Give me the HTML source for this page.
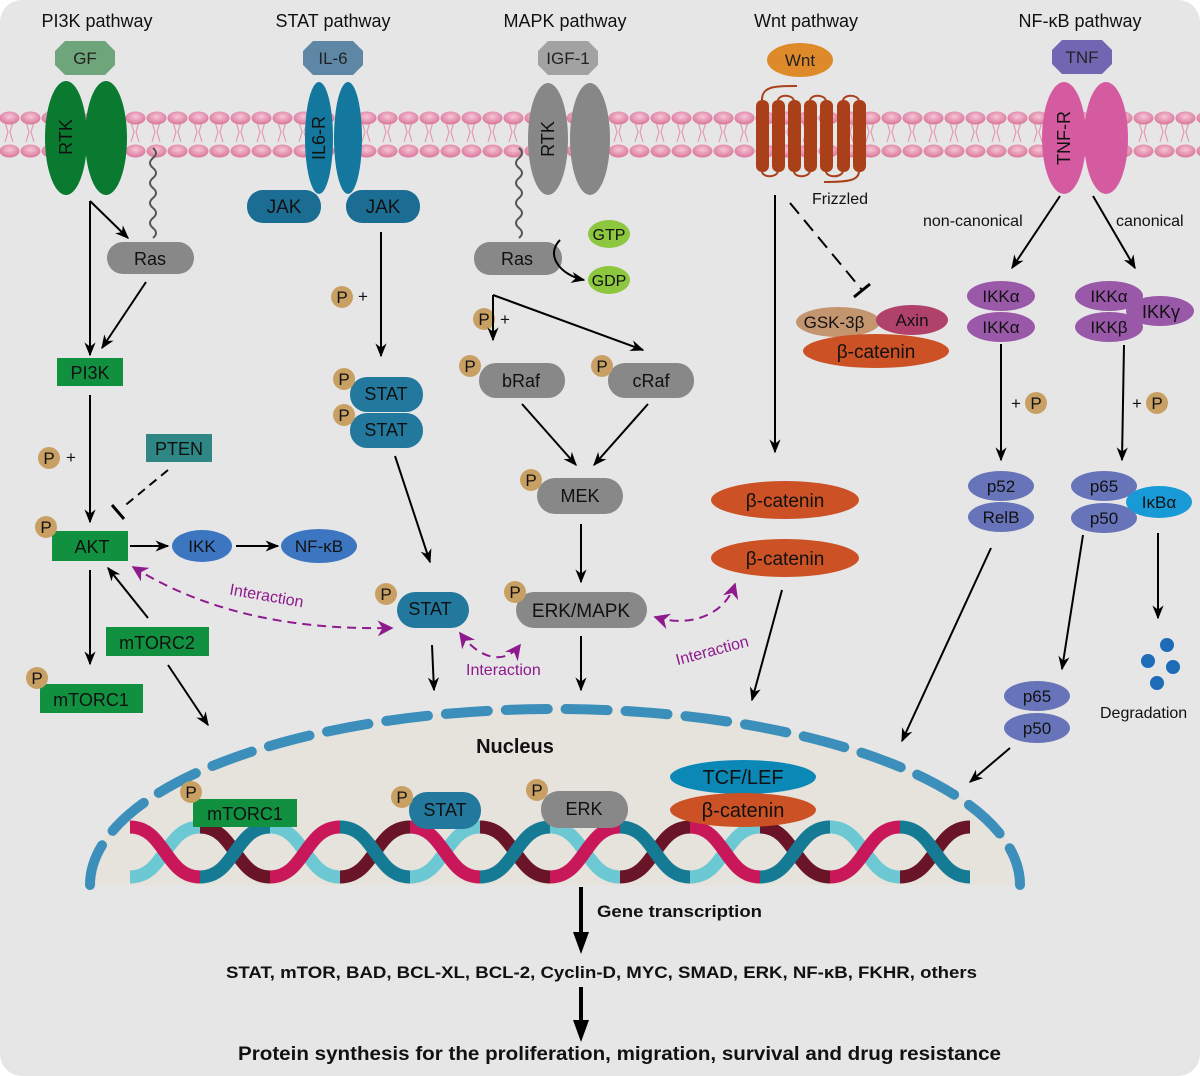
<!DOCTYPE html>
<html><head><meta charset="utf-8"><style>
html,body{margin:0;padding:0;background:#fff;}
svg{display:block;font-family:"Liberation Sans",sans-serif;}
</style></head><body>
<svg width="1200" height="1076" viewBox="0 0 1200 1076" xmlns="http://www.w3.org/2000/svg">
<defs>
<marker id="ar" viewBox="0 0 10 10" refX="9" refY="5" markerWidth="7" markerHeight="7" orient="auto-start-reverse"><path d="M0,1 L10,5 L0,9 L3,5 z" fill="#000"/></marker>
<marker id="ap" viewBox="0 0 10 10" refX="9" refY="5" markerWidth="8" markerHeight="8" orient="auto-start-reverse"><path d="M0,0 L10,5 L0,10 L3,5 z" fill="#8e1a8e"/></marker>
<radialGradient id="lh" cx="50%" cy="40%" r="60%"><stop offset="0" stop-color="#f6c6d6"/><stop offset="1" stop-color="#d9749a"/></radialGradient>
<pattern id="heads" x="-1" y="0" width="21" height="200" patternUnits="userSpaceOnUse">
<ellipse cx="10.5" cy="118" rx="10" ry="6.5" fill="url(#lh)"/>
<ellipse cx="10.5" cy="151" rx="10" ry="6.5" fill="url(#lh)"/>
</pattern>
</defs>
<rect x="0" y="0" width="1200" height="1076" rx="22" fill="#e6e6e6"/>

<g stroke="#e39ab3" stroke-width="1.2" fill="none">
<path d="M5 122 l3 10 l-3 10 M13 122 l-3 10 l3 10 M26 122 l3 10 l-3 10 M34 122 l-3 10 l3 10 M47 122 l3 10 l-3 10 M55 122 l-3 10 l3 10 M68 122 l3 10 l-3 10 M76 122 l-3 10 l3 10 M89 122 l3 10 l-3 10 M97 122 l-3 10 l3 10 M110 122 l3 10 l-3 10 M118 122 l-3 10 l3 10 M131 122 l3 10 l-3 10 M139 122 l-3 10 l3 10 M152 122 l3 10 l-3 10 M160 122 l-3 10 l3 10 M173 122 l3 10 l-3 10 M181 122 l-3 10 l3 10 M194 122 l3 10 l-3 10 M202 122 l-3 10 l3 10 M215 122 l3 10 l-3 10 M223 122 l-3 10 l3 10 M236 122 l3 10 l-3 10 M244 122 l-3 10 l3 10 M257 122 l3 10 l-3 10 M265 122 l-3 10 l3 10 M278 122 l3 10 l-3 10 M286 122 l-3 10 l3 10 M299 122 l3 10 l-3 10 M307 122 l-3 10 l3 10 M320 122 l3 10 l-3 10 M328 122 l-3 10 l3 10 M341 122 l3 10 l-3 10 M349 122 l-3 10 l3 10 M362 122 l3 10 l-3 10 M370 122 l-3 10 l3 10 M383 122 l3 10 l-3 10 M391 122 l-3 10 l3 10 M404 122 l3 10 l-3 10 M412 122 l-3 10 l3 10 M425 122 l3 10 l-3 10 M433 122 l-3 10 l3 10 M446 122 l3 10 l-3 10 M454 122 l-3 10 l3 10 M467 122 l3 10 l-3 10 M475 122 l-3 10 l3 10 M488 122 l3 10 l-3 10 M496 122 l-3 10 l3 10 M509 122 l3 10 l-3 10 M517 122 l-3 10 l3 10 M530 122 l3 10 l-3 10 M538 122 l-3 10 l3 10 M551 122 l3 10 l-3 10 M559 122 l-3 10 l3 10 M572 122 l3 10 l-3 10 M580 122 l-3 10 l3 10 M593 122 l3 10 l-3 10 M601 122 l-3 10 l3 10 M614 122 l3 10 l-3 10 M622 122 l-3 10 l3 10 M635 122 l3 10 l-3 10 M643 122 l-3 10 l3 10 M656 122 l3 10 l-3 10 M664 122 l-3 10 l3 10 M677 122 l3 10 l-3 10 M685 122 l-3 10 l3 10 M698 122 l3 10 l-3 10 M706 122 l-3 10 l3 10 M719 122 l3 10 l-3 10 M727 122 l-3 10 l3 10 M740 122 l3 10 l-3 10 M748 122 l-3 10 l3 10 M761 122 l3 10 l-3 10 M769 122 l-3 10 l3 10 M782 122 l3 10 l-3 10 M790 122 l-3 10 l3 10 M803 122 l3 10 l-3 10 M811 122 l-3 10 l3 10 M824 122 l3 10 l-3 10 M832 122 l-3 10 l3 10 M845 122 l3 10 l-3 10 M853 122 l-3 10 l3 10 M866 122 l3 10 l-3 10 M874 122 l-3 10 l3 10 M887 122 l3 10 l-3 10 M895 122 l-3 10 l3 10 M908 122 l3 10 l-3 10 M916 122 l-3 10 l3 10 M929 122 l3 10 l-3 10 M937 122 l-3 10 l3 10 M950 122 l3 10 l-3 10 M958 122 l-3 10 l3 10 M971 122 l3 10 l-3 10 M979 122 l-3 10 l3 10 M992 122 l3 10 l-3 10 M1000 122 l-3 10 l3 10 M1013 122 l3 10 l-3 10 M1021 122 l-3 10 l3 10 M1034 122 l3 10 l-3 10 M1042 122 l-3 10 l3 10 M1055 122 l3 10 l-3 10 M1063 122 l-3 10 l3 10 M1076 122 l3 10 l-3 10 M1084 122 l-3 10 l3 10 M1097 122 l3 10 l-3 10 M1105 122 l-3 10 l3 10 M1118 122 l3 10 l-3 10 M1126 122 l-3 10 l3 10 M1139 122 l3 10 l-3 10 M1147 122 l-3 10 l3 10 M1160 122 l3 10 l-3 10 M1168 122 l-3 10 l3 10 M1181 122 l3 10 l-3 10 M1189 122 l-3 10 l3 10"/>
</g>
<rect x="0" y="110" width="1200" height="48" fill="url(#heads)"/>

<!-- ligands -->
<g font-size="17" text-anchor="middle">
<polygon points="55,51 65,41 105,41 115,51 115,65 105,75 65,75 55,65" fill="#6fa57a"/>
<text x="85" y="64" fill="#222">GF</text>
<polygon points="303,51 313,41 353,41 363,51 363,65 353,75 313,75 303,65" fill="#5d87a5"/>
<text x="333" y="64" fill="#222">IL-6</text>
<polygon points="538,51 548,41 588,41 598,51 598,65 588,75 548,75 538,65" fill="#a2a2a2"/>
<text x="568" y="64" fill="#222">IGF-1</text>
<ellipse cx="800" cy="60" rx="33" ry="17" fill="#de8a2b"/>
<text x="800" y="66" fill="#222">Wnt</text>
<polygon points="1052,50 1062,40 1102,40 1112,50 1112,64 1102,74 1062,74 1052,64" fill="#7266b3"/>
<text x="1082" y="63" fill="#222">TNF</text>
</g>

<!-- receptors -->
<ellipse cx="66" cy="138" rx="21" ry="57" fill="#0a7a31"/>
<ellipse cx="106" cy="138" rx="21" ry="57" fill="#0a7a31"/>
<text transform="translate(72,137) rotate(-90)" text-anchor="middle" font-size="18" fill="#111">RTK</text>
<ellipse cx="319" cy="138" rx="14" ry="56" fill="#14789e"/>
<ellipse cx="348" cy="138" rx="14" ry="56" fill="#14789e"/>
<text transform="translate(325,138) rotate(-90)" text-anchor="middle" font-size="18" fill="#111">IL6-R</text>
<ellipse cx="548" cy="139" rx="20" ry="56" fill="#878787"/>
<ellipse cx="590" cy="139" rx="20" ry="56" fill="#878787"/>
<text transform="translate(554,139) rotate(-90)" text-anchor="middle" font-size="18" fill="#111">RTK</text>
<ellipse cx="1064" cy="138" rx="22" ry="56" fill="#d55ba1"/>
<ellipse cx="1106" cy="138" rx="22" ry="56" fill="#d55ba1"/>
<text transform="translate(1070,138) rotate(-90)" text-anchor="middle" font-size="18" fill="#111">TNF-R</text>
<!-- frizzled -->
<g fill="#a9401a">
<rect x="756" y="100" width="13" height="72" rx="6"/>
<rect x="772" y="100" width="13" height="72" rx="6"/>
<rect x="788" y="100" width="13" height="72" rx="6"/>
<rect x="804" y="100" width="13" height="72" rx="6"/>
<rect x="820" y="100" width="13" height="72" rx="6"/>
<rect x="837" y="100" width="13" height="72" rx="6"/>
<rect x="853" y="100" width="13" height="72" rx="6"/>
</g>
<g fill="none" stroke="#a9401a" stroke-width="2">
<path d="M762 100 C762 86 775 86 797 86"/>
<path d="M778 101 C778 94 793 94 794 101 M810 101 C810 94 825 94 826 101 M843 101 C843 94 858 94 859 101"/>
<path d="M762 171 C762 178 777 178 778 171 M794 171 C794 178 809 178 810 171 M826 171 C826 178 842 178 843 171"/>
<path d="M859 171 C859 180 850 182 824 182"/>
</g>
<text x="812" y="204" font-size="16" fill="#111">Frizzled</text>

<!-- titles -->
<g font-size="18" fill="#111" text-anchor="middle">
<text x="97" y="27">PI3K pathway</text>
<text x="333" y="27">STAT pathway</text>
<text x="565" y="27">MAPK pathway</text>
<text x="806" y="27">Wnt pathway</text>
<text x="1080" y="27">NF-κB pathway</text>
</g>

<!-- nucleus -->
<path d="M88 885 A467 178 0 0 1 1022 885 Z" fill="#e6e2dc"/>
<path d="M90 885 A465 176 0 0 1 1020 885" fill="none" stroke="#3b8fba" stroke-width="10" stroke-linecap="round" stroke-dasharray="42 18"/>
<text x="515" y="753" font-size="20" font-weight="bold" text-anchor="middle" fill="#111">Nucleus</text>

<!-- DNA -->
<g fill="none" stroke-width="13" stroke-linecap="butt">
<path stroke="#6cc8d2" d="M130 877 C165 877 165 827 200 827 M410 877 C445 877 445 827 480 827 M690 877 C725 877 725 827 760 827 M270 827 C305 827 305 877 340 877 M550 827 C585 827 585 877 620 877 M830 827 C865 827 865 877 900 877"/>
<path stroke="#6a1428" d="M200 827 C235 827 235 877 270 877 M480 827 C515 827 515 877 550 877 M760 827 C795 827 795 877 830 877 M340 877 C375 877 375 827 410 827 M620 877 C655 877 655 827 690 827 M900 877 C935 877 935 827 970 827"/>
<path stroke="#157a94" d="M340 827 C375 827 375 877 410 877 M620 827 C655 827 655 877 690 877 M900 827 C935 827 935 877 970 877 M200 877 C235 877 235 827 270 827 M480 877 C515 877 515 827 550 827 M760 877 C795 877 795 827 830 827"/>
<path stroke="#c8185a" d="M270 877 C305 877 305 827 340 827 M550 877 C585 877 585 827 620 827 M830 877 C865 877 865 827 900 827 M130 827 C165 827 165 877 200 877 M410 827 C445 827 445 877 480 877 M690 827 C725 827 725 877 760 877"/>
</g>

<g font-size="18" fill="#111" text-anchor="middle">
<rect x="107" y="242" width="87" height="32" rx="16" fill="#888"/><text x="150" y="265">Ras</text>
<rect x="57" y="358" width="66" height="28" fill="#119040"/><text x="90" y="379">PI3K</text>
<rect x="146" y="434" width="66" height="28" fill="#2e8784"/><text x="179" y="455">PTEN</text>
<rect x="52" y="531" width="76" height="30" fill="#119040"/><text x="92" y="553">AKT</text>
<ellipse cx="202" cy="546" rx="30" ry="16" fill="#3c76c0"/><text x="202" y="552" font-size="17">IKK</text>
<ellipse cx="319" cy="546" rx="38" ry="17" fill="#3c76c0"/><text x="319" y="552" font-size="17">NF-κB</text>
<rect x="106" y="627" width="103" height="29" fill="#119040"/><text x="157" y="649">mTORC2</text>
<rect x="40" y="684" width="103" height="29" fill="#119040"/><text x="91" y="706">mTORC1</text>
<rect x="247" y="190" width="74" height="33" rx="16" fill="#1c6d93"/><text x="284" y="213" font-size="19">JAK</text>
<rect x="346" y="190" width="74" height="33" rx="16" fill="#1c6d93"/><text x="383" y="213" font-size="19">JAK</text>
<rect x="350" y="377" width="73" height="35" rx="17" fill="#23789e"/><text x="386" y="400">STAT</text>
<rect x="350" y="413" width="73" height="35" rx="17" fill="#23789e"/><text x="386" y="436">STAT</text>
<rect x="397" y="592" width="72" height="36" rx="18" fill="#23789e"/><text x="430" y="615">STAT</text>
<rect x="474" y="242" width="88" height="33" rx="16" fill="#888"/><text x="517" y="265">Ras</text>
<ellipse cx="609" cy="234" rx="21" ry="14" fill="#8dc63f"/><text x="609" y="240" font-size="16">GTP</text>
<ellipse cx="609" cy="280" rx="21" ry="14" fill="#8dc63f"/><text x="609" y="286" font-size="16">GDP</text>
<rect x="479" y="363" width="86" height="35" rx="17" fill="#888"/><text x="521" y="387">bRaf</text>
<rect x="608" y="363" width="86" height="35" rx="17" fill="#888"/><text x="651" y="387">cRaf</text>
<rect x="537" y="478" width="86" height="36" rx="18" fill="#888"/><text x="580" y="502">MEK</text>
<rect x="516" y="592" width="131" height="36" rx="18" fill="#888"/><text x="581" y="617" font-size="19">ERK/MAPK</text>
<ellipse cx="838" cy="322" rx="42" ry="15" fill="#c49670"/><text x="834" y="328" font-size="17">GSK-3β</text>
<ellipse cx="912" cy="320" rx="36" ry="15" fill="#b0416a"/><text x="912" y="326" font-size="17">Axin</text>
<ellipse cx="876" cy="351" rx="73" ry="17" fill="#cc5226"/><text x="876" y="358" font-size="19">β-catenin</text>
<ellipse cx="785" cy="500" rx="74" ry="19" fill="#cc5226"/><text x="785" y="507" font-size="19">β-catenin</text>
<ellipse cx="785" cy="558" rx="74" ry="19" fill="#cc5226"/><text x="785" y="565" font-size="19">β-catenin</text>
<ellipse cx="1001" cy="296" rx="34" ry="15" fill="#9a58a8"/><text x="1001" y="302" font-size="17">IKKα</text>
<ellipse cx="1001" cy="327" rx="34" ry="15" fill="#9a58a8"/><text x="1001" y="333" font-size="17">IKKα</text>
<ellipse cx="1160" cy="311" rx="34" ry="15" fill="#9a58a8"/><text x="1161" y="318" font-size="18">IKKγ</text>
<ellipse cx="1109" cy="296" rx="34" ry="15" fill="#9a58a8"/><text x="1109" y="302" font-size="17">IKKα</text>
<ellipse cx="1109" cy="327" rx="34" ry="15" fill="#9a58a8"/><text x="1109" y="333" font-size="17">IKKβ</text>
<ellipse cx="1001" cy="486" rx="33" ry="15" fill="#6874b9"/><text x="1001" y="492" font-size="17">p52</text>
<ellipse cx="1001" cy="517" rx="33" ry="15" fill="#6874b9"/><text x="1001" y="523" font-size="17">RelB</text>
<ellipse cx="1104" cy="486" rx="33" ry="15" fill="#6874b9"/><text x="1104" y="492" font-size="17">p65</text>
<ellipse cx="1104" cy="518" rx="33" ry="15" fill="#6874b9"/><text x="1104" y="524" font-size="17">p50</text>
<ellipse cx="1159" cy="502" rx="33" ry="16" fill="#189ad6"/><text x="1159" y="508" font-size="17">IκBα</text>
<ellipse cx="1037" cy="696" rx="33" ry="15" fill="#6874b9"/><text x="1037" y="702" font-size="17">p65</text>
<ellipse cx="1037" cy="728" rx="33" ry="15" fill="#6874b9"/><text x="1037" y="734" font-size="17">p50</text>
<rect x="193" y="799" width="104" height="28" fill="#119040"/><text x="245" y="820">mTORC1</text>
<rect x="409" y="792" width="72" height="37" rx="18" fill="#23789e"/><text x="445" y="816">STAT</text>
<rect x="541" y="791" width="87" height="37" rx="18" fill="#888"/><text x="584" y="815">ERK</text>
<ellipse cx="743" cy="777" rx="73" ry="17" fill="#0c88b6"/><text x="743" y="784" font-size="20">TCF/LEF</text>
<ellipse cx="743" cy="810" rx="73" ry="17" fill="#cc5226"/><text x="743" y="817" font-size="20">β-catenin</text>
</g>

<g fill="#c9a064">
<circle cx="342" cy="297" r="11"/><circle cx="484" cy="319" r="11"/>
<circle cx="49" cy="458" r="11"/><circle cx="46" cy="527" r="11"/><circle cx="37" cy="678" r="11"/>
<circle cx="344" cy="379" r="11"/><circle cx="344" cy="415" r="11"/><circle cx="386" cy="594" r="11"/>
<circle cx="470" cy="366" r="11"/><circle cx="602" cy="366" r="11"/><circle cx="531" cy="480" r="11"/><circle cx="515" cy="592" r="11"/>
<circle cx="1036" cy="403" r="11"/><circle cx="1157" cy="403" r="11"/>
<circle cx="191" cy="792" r="11"/><circle cx="402" cy="797" r="11"/><circle cx="537" cy="790" r="11"/>
</g>
<g font-size="17" fill="#111" text-anchor="middle">
<text x="342" y="303">P</text><text x="484" y="325">P</text><text x="49" y="464">P</text><text x="46" y="533">P</text><text x="37" y="684">P</text>
<text x="344" y="385">P</text><text x="344" y="421">P</text><text x="386" y="600">P</text><text x="470" y="372">P</text><text x="602" y="372">P</text>
<text x="531" y="486">P</text><text x="515" y="598">P</text><text x="1036" y="409">P</text><text x="1157" y="409">P</text>
<text x="191" y="798">P</text><text x="402" y="803">P</text><text x="537" y="796">P</text>
<text x="363" y="302">+</text><text x="505" y="325">+</text><text x="71" y="463">+</text><text x="1016" y="409">+</text><text x="1137" y="409">+</text>
</g>

<path d="M153 148 q6 5 0 10 q-6 5 0 10 q6 5 0 10 q-6 5 0 10 q6 5 0 10 q-6 5 0 10 q6 5 0 10 q-6 5 0 10 q6 5 0 10" fill="none" stroke="#555" stroke-width="2"/>
<path d="M519 148 q6 5 0 10 q-6 5 0 10 q6 5 0 10 q-6 5 0 10 q6 5 0 10 q-6 5 0 10 q6 5 0 10 q-6 5 0 10 q6 5 0 10" fill="none" stroke="#555" stroke-width="2"/>

<g stroke="#000" stroke-width="2" fill="none" marker-end="url(#ar)">
<path d="M90 201 V355"/>
<path d="M90 201 L128 238"/>
<path d="M146 282 L102 348"/>
<path d="M90 395 V522"/>
<path d="M130 546 H168"/>
<path d="M236 546 H278"/>
<path d="M90 570 V664"/>
<path d="M148 618 L108 568"/>
<path d="M168 665 L208 725"/>
<path d="M381 232 V356"/>
<path d="M395 456 L430 562"/>
<path d="M432 645 L434 690"/>
<path d="M560 240 C545 255 560 275 584 280"/>
<path d="M493 295 V340"/>
<path d="M493 295 L643 350"/>
<path d="M522 404 L576 465"/>
<path d="M648 404 L594 465"/>
<path d="M581 524 V582"/>
<path d="M581 636 V690"/>
<path d="M775 195 V452"/>
<path d="M782 590 L752 700"/>
<path d="M1060 196 L1012 268"/>
<path d="M1093 196 L1135 268"/>
<path d="M1001 344 V460"/>
<path d="M1124 345 L1122 460"/>
<path d="M1158 533 V618"/>
<path d="M991 548 L902 741"/>
<path d="M1083 535 L1062 669"/>
<path d="M1010 748 L970 782"/>
</g>
<g stroke="#000" stroke-width="2" fill="none">
<path d="M168 470 L122 508" stroke-dasharray="9 6"/>
<path d="M112 505 L124 519" stroke-width="3"/>
<path d="M790 203 L862 290" stroke-dasharray="14 8"/>
<path d="M854 297 L870 284" stroke-width="3"/>
</g>
<path d="M581 887 V935" stroke="#000" stroke-width="4"/>
<polygon points="573,932 589,932 581,954" fill="#000"/>
<path d="M581 987 V1024" stroke="#000" stroke-width="4"/>
<polygon points="573,1020 589,1020 581,1042" fill="#000"/>

<g stroke="#8e1a8e" stroke-width="2" fill="none" stroke-dasharray="9 6">
<path d="M133 567 C210 615 300 630 392 628" marker-start="url(#ap)" marker-end="url(#ap)"/>
<path d="M460 633 C480 660 505 665 520 645" marker-start="url(#ap)" marker-end="url(#ap)"/>
<path d="M655 617 C690 628 725 615 735 584" marker-start="url(#ap)" marker-end="url(#ap)"/>
</g>
<g fill="#8e1a8e" font-size="16">
<text x="228" y="601" transform="rotate(10 266 603)">Interaction</text>
<text x="466" y="675">Interaction</text>
<text x="672" y="656" transform="rotate(-15 710 640)">Interaction</text>
</g>

<g font-size="16" fill="#111">
<text x="923" y="226">non-canonical</text>
<text x="1116" y="226">canonical</text>
<text x="1100" y="718">Degradation</text>
</g>
<g fill="#1e6bb8">
<circle cx="1167" cy="645" r="7"/><circle cx="1148" cy="661" r="7"/><circle cx="1173" cy="667" r="7"/><circle cx="1157" cy="683" r="7"/>
</g>

<g font-weight="bold" fill="#111">
<text x="597" y="917" font-size="17" textLength="165" lengthAdjust="spacingAndGlyphs">Gene transcription</text>
<text x="226" y="978" font-size="17" textLength="751" lengthAdjust="spacingAndGlyphs">STAT, mTOR, BAD, BCL-XL, BCL-2, Cyclin-D, MYC, SMAD, ERK, NF-κB, FKHR, others</text>
<text x="238" y="1060" font-size="19" textLength="763" lengthAdjust="spacingAndGlyphs">Protein synthesis for the proliferation, migration, survival and drug resistance</text>
</g>
</svg>
</body></html>
